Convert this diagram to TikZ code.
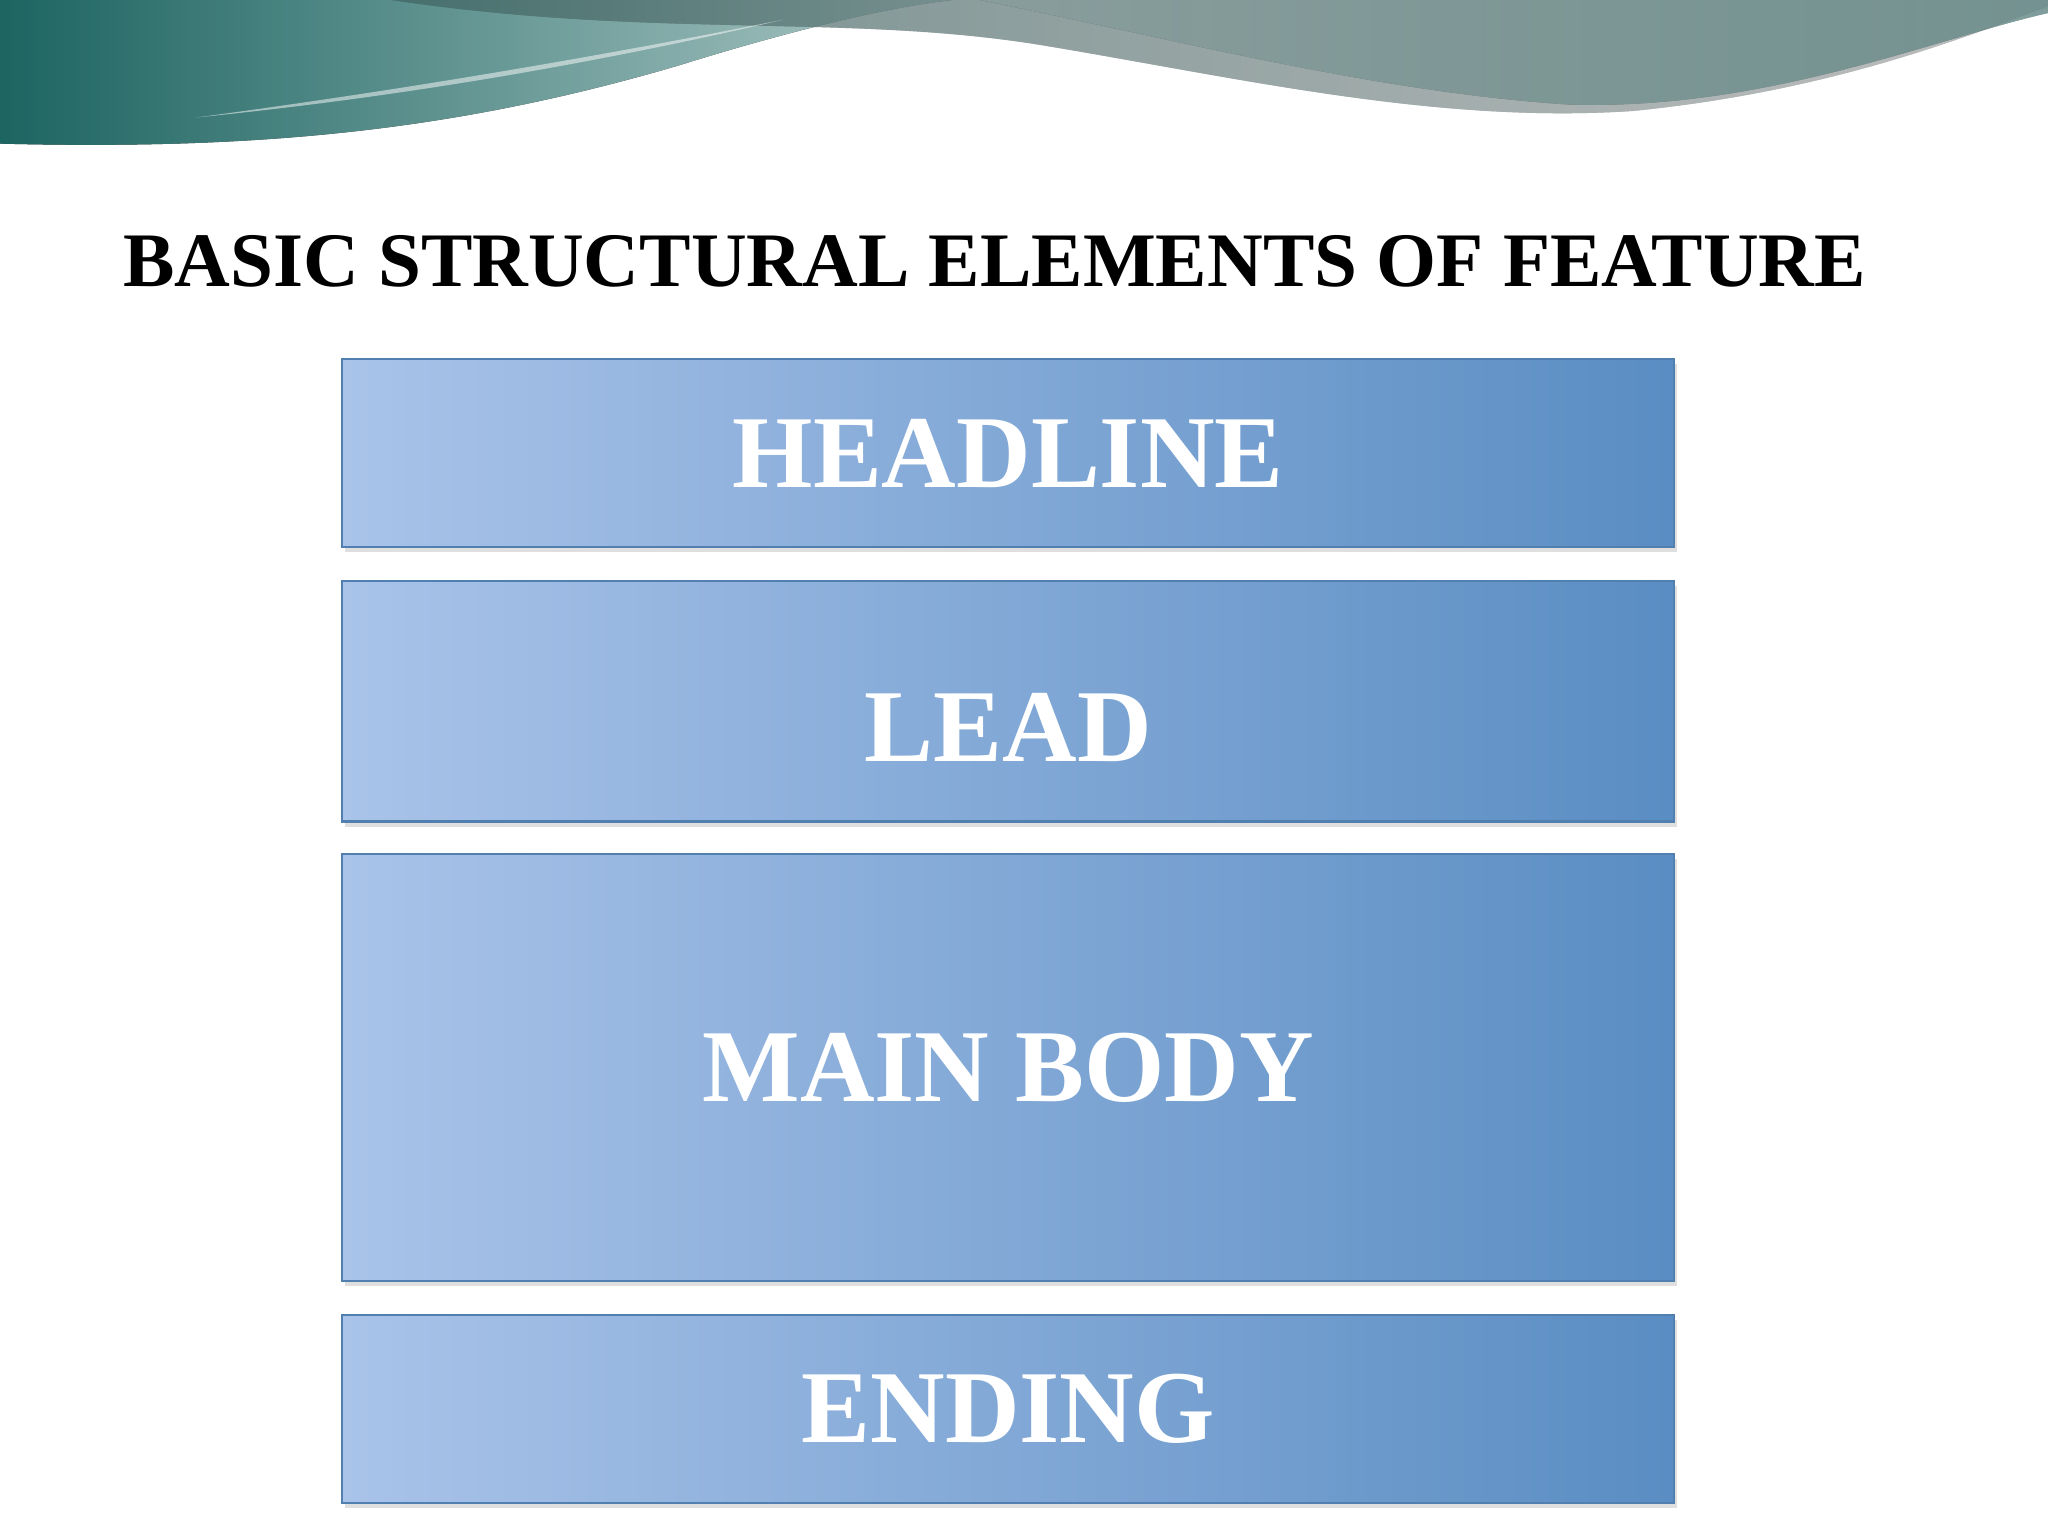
\documentclass[tikz,border=0pt]{standalone}
\usepackage{fontspec}
\setmainfont{Liberation Serif}
\usetikzlibrary{shadows}
\definecolor{bl}{HTML}{A9C3E9}
\definecolor{bm}{HTML}{85ADE3}
\definecolor{br}{HTML}{5A8DC3}
\definecolor{teal1}{HTML}{1E6E6A}
\definecolor{teal2}{HTML}{5FA8A4}
\tikzset{
  block/.style={draw=br!90!black, line width=0.5pt, left color=bl, middle color=bm, right color=br,
    minimum width=10.2cm, anchor=north west, inner sep=0pt,
    drop shadow={shadow xshift=0.02cm, shadow yshift=-0.04cm, opacity=0.25},
    font=\fontsize{22.5}{26}\selectfont\bfseries, text=white},
}
\begin{document}
\begin{tikzpicture}[x=1cm,y=1cm]
\useasboundingbox (0,0) rectangle (15.68,-11.76);
% top banner waves
\fill[left color=teal1, right color=teal2!40, opacity=0.9]
  (0,0) -- (0,-1.1) .. controls (2,-1.15) and (3.5,-1.0) .. (5.2,-0.5)
  .. controls (6,-0.25) and (6.8,-0.05) .. (7.3,0) -- cycle;
\fill[left color=teal1!70, right color=white, opacity=0.5]
  (3,0) .. controls (5,-0.3) and (6.5,-0.1) .. (8,-0.35)
  .. controls (9.5,-0.6) and (11,-0.95) .. (12.5,-0.85)
  .. controls (14,-0.7) and (15,-0.3) .. (15.68,-0.05) -- (15.68,0) -- cycle;
\fill[left color=teal2!40, right color=teal2!70, opacity=0.6]
  (7.5,0) .. controls (9,-0.3) and (10.5,-0.7) .. (12,-0.8)
  .. controls (13.5,-0.85) and (14.8,-0.3) .. (15.68,-0.1) -- (15.68,0) -- cycle;
\fill[white, opacity=0.5]
  (1.5,-0.9) .. controls (3,-0.75) and (4.5,-0.5) .. (6,-0.15)
  .. controls (4.5,-0.45) and (3,-0.7) .. (1.5,-0.9);
% title
\node (title) at (7.615,-2.0) {\fontsize{16.8}{20}\selectfont\bfseries BASIC STRUCTURAL ELEMENTS OF FEATURE};
% blocks
\node[block, minimum height=1.44cm] (head) at (2.61,-2.74) {HEADLINE};
\node[block, minimum height=1.84cm] (lead) at (2.61,-4.44) {};
\node[font=\fontsize{22.5}{26}\selectfont\bfseries, text=white] (leadtext) at ([yshift=-0.2cm]lead.center) {LEAD};
\node[block, minimum height=3.27cm] (body) at (2.61,-6.53) {MAIN BODY};
\node[block, minimum height=1.44cm] (end) at (2.61,-10.06) {ENDING};
\end{tikzpicture}
\end{document}
